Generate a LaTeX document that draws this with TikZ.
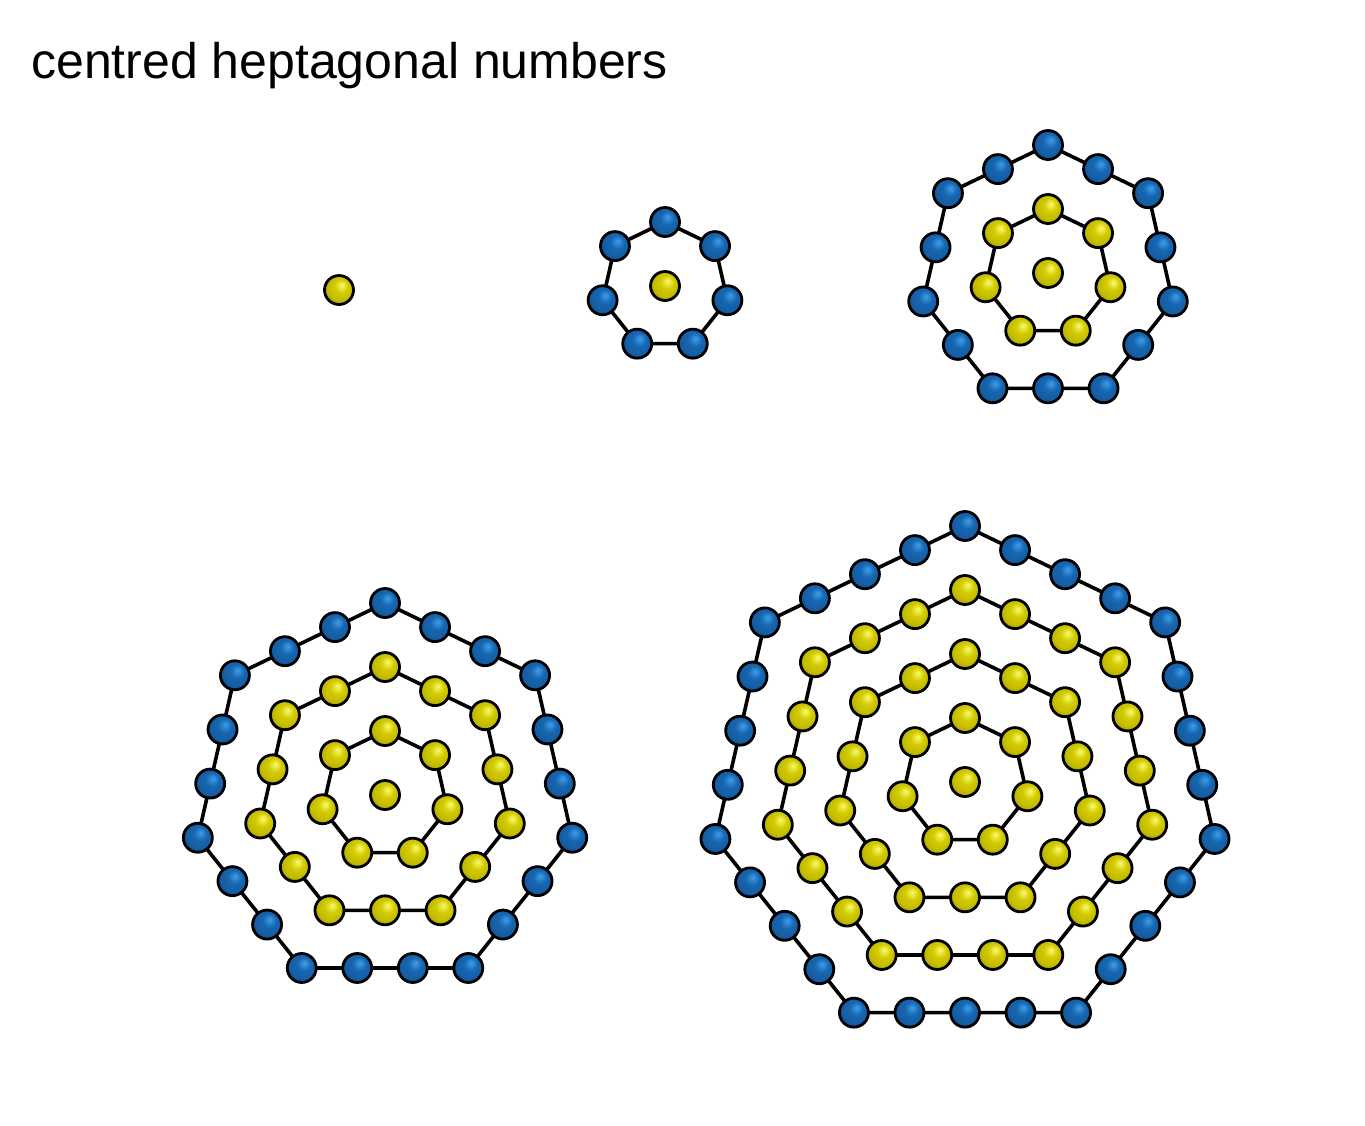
\documentclass[tikz,border=0pt]{standalone}
\usepackage{fontspec}
\setmainfont{Liberation Sans}
\definecolor{bhl}{HTML}{3E9EEA}
\definecolor{bmid}{HTML}{1766B0}
\definecolor{bdk}{HTML}{0B3A6E}
\definecolor{yhl}{HTML}{FAFA70}
\definecolor{ymid}{HTML}{D2CA00}
\definecolor{ydk}{HTML}{7E7600}
\pgfdeclareradialshading{bluedot}{\pgfqpoint{5bp}{9bp}}{color(0bp)=(bhl); color(12bp)=(bmid); color(24bp)=(bmid!80!bdk); color(34bp)=(bdk); color(50bp)=(bdk)}
\pgfdeclareradialshading{yellowdot}{\pgfqpoint{5bp}{9bp}}{color(0bp)=(yhl); color(12bp)=(ymid); color(24bp)=(ymid!80!ydk); color(34bp)=(ydk); color(50bp)=(ydk)}
\tikzset{
  ringline/.style={line width=3.6pt, black, line join=round},
  dotstyle/.style={draw=black, line width=2.8pt},
}
\newcommand\heptfig[3]{% cx, cy, n
  \ifnum#3>0
  \foreach \k in {1,...,#3} {
    \draw[ringline] ({#1},{#2-\k*64})
      \foreach \j in {1,...,6}{ -- ({#1+\k*64*cos(90+\j*360/7)},{#2-\k*64*sin(90+\j*360/7)}) } -- cycle;
  }
  \foreach \k in {1,...,#3} {
    \pgfmathtruncatemacro\kk{\k-1}
    \ifnum\k=#3 \def\dc{bluedot}\else\def\dc{yellowdot}\fi
    \foreach \j in {0,...,6} {
      \foreach \i in {0,...,\kk} {
        \pgfmathsetmacro\tt{\i/\k}
        \pgfmathsetmacro\aa{90+\j*360/7}
        \pgfmathsetmacro\ab{90+(\j+1)*360/7}
        \pgfmathsetmacro\px{#1+\k*64*((1-\tt)*cos(\aa)+\tt*cos(\ab))}
        \pgfmathsetmacro\py{#2-\k*64*((1-\tt)*sin(\aa)+\tt*sin(\ab))}
        \shade[dotstyle, shading=\dc] (\px,\py) circle[radius=14.5];
      }
    }
  }
  \fi
  \shade[dotstyle, shading=yellowdot] (#1,#2) circle[radius=14.5];
}
\begin{document}
\begin{tikzpicture}[x=1pt,y=-1pt]
\useasboundingbox[fill=white] (0,0) rectangle (1365,1125);
\node[anchor=base west, inner sep=0pt, font=\fontsize{50}{60}\selectfont] (title) at (31,78) {centred heptagonal numbers};
\heptfig{339}{290}{0}
\heptfig{665}{286}{1}
\heptfig{1048}{273}{2}
\heptfig{385}{795}{3}
\heptfig{965}{782}{4}
\end{tikzpicture}
\end{document}
